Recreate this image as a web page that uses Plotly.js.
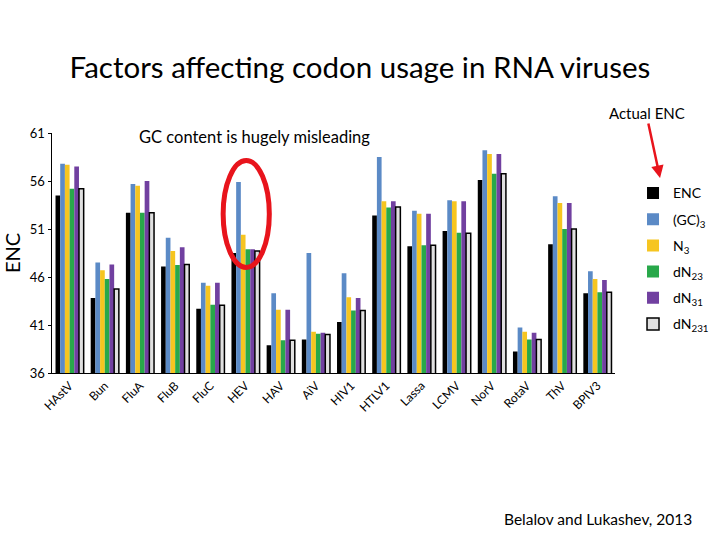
<!DOCTYPE html>
<html><head><meta charset="utf-8">
<script src="https://cdn.plot.ly/plotly-3.0.1.min.js"></script>
<style>body{margin:0;background:#fff}#c{width:720px;height:540px}</style>
</head><body><div id="c"></div>
<script>
const categories = ["HAstV","Bun","FluA","FluB","FluC","HEV","HAV","AiV","HIV1","HTLV1","Lassa","LCMV","NorV","RotaV","ThV","BPIV3"];
const ENC    = [54.5,43.8,52.7,47.1,42.7,48.5,38.9,39.5,41.3,52.4,49.2,50.8,56.1,38.25,49.4,44.3];
const GC3    = [57.8,47.5,55.7,50.1,45.4,55.9,44.3,48.5,46.4,58.5,52.9,54.0,59.2,40.75,54.4,46.6];
const N3     = [57.7,46.7,55.5,48.7,45.1,50.4,42.6,40.3,43.9,53.9,52.6,53.9,58.8,40.3,53.7,45.8];
const dN23   = [55.2,45.8,52.7,47.25,43.1,48.9,39.4,40.1,42.5,53.25,49.3,50.6,56.75,39.5,51.0,44.4];
const dN31   = [57.5,47.3,56.0,49.1,45.4,48.9,42.6,40.2,43.8,53.9,52.6,53.9,58.8,40.2,53.7,45.7];
const dN231  = [55.2,44.75,52.7,47.3,43.05,48.7,39.4,40.0,42.5,53.3,49.3,50.55,56.75,39.5,51.0,44.4];
const seriesNames = ["ENC","(GC)<sub>3</sub>","N<sub>3</sub>","dN<sub>23</sub>","dN<sub>31</sub>","dN<sub>231</sub>"];
const yTicks = [36,41,46,51,56,61];

const series = [ENC,GC3,N3,dN23,dN31,dN231];
const colors = ["#000000","#5b8ac6","#f6c520","#28a84a","#7140a0","#e0e0e0"];
const lines  = [0,0,0,0,0,1.5];
const traces = series.map((v,i)=>({
  type:'bar', x:categories, y:v, name:seriesNames[i], legendgroup:'g'+i,
  marker:{color:colors[i], line:{color:'#000', width:lines[i]}}
}));

const layout = {
  width:720, height:540,
  margin:{l:52, r:105, t:133, b:167, autoexpand:false},
  paper_bgcolor:'#fff', plot_bgcolor:'#fff',
  font:{family:'Lato, "Open Sans", sans-serif', color:'#000'},
  title:{text:'Factors affecting codon usage in RNA viruses', x:0.5, xref:'container', y:0.874, yref:'container',
         xanchor:'center', yanchor:'middle', font:{size:29.5, family:'Lato, sans-serif', color:'#000'}},
  barmode:'group', bargap:0.2, bargroupgap:0,
  xaxis:{type:'category', tickangle:-45, showline:true, linecolor:'#000', linewidth:1,
         ticks:'', tickfont:{size:12}, showgrid:false, range:[-0.5,15.5]},
  yaxis:{range:[36,61], tickvals:yTicks, showline:true, linecolor:'#000', linewidth:1.5,
         ticks:'outside', ticklen:3, tickcolor:'#000', showgrid:false, zeroline:false,
         tickfont:{size:13},
         title:{text:'ENC', font:{size:20}, standoff:8}},
  legend:{x:1.032, y:0.815, xanchor:'left', yanchor:'top', font:{size:14},
          tracegroupgap:5, itemwidth:30, bgcolor:'rgba(0,0,0,0)'},
  shapes:[{type:'circle', xref:'paper', yref:'paper', x0:0.304, x1:0.386, y0:0.44, y1:0.885,
           line:{color:'#e8141c', width:5}}],
  annotations:[
    {text:'GC content is hugely misleading', xref:'paper', yref:'paper', x:0.151, y:0.985,
     xanchor:'left', yanchor:'middle', showarrow:false, font:{size:16.5}},
    {text:'Actual ENC', xref:'paper', yref:'paper', x:1.057, y:1.083,
     xanchor:'center', yanchor:'middle', showarrow:false, font:{size:15}},
    {text:'', xref:'paper', yref:'paper', x:1.08, y:0.8125, ax:-12, ay:-56,
     showarrow:true, arrowhead:2, arrowsize:1, arrowwidth:2.5, arrowcolor:'#e8141c'},
    {text:'Belalov and Lukashev, 2013', xref:'paper', yref:'paper', x:0.97, y:-0.608,
     xanchor:'center', yanchor:'middle', showarrow:false, font:{size:15.5}}
  ]
};
Plotly.newPlot('c', traces, layout, {displayModeBar:false, staticPlot:true});
</script></body></html>
